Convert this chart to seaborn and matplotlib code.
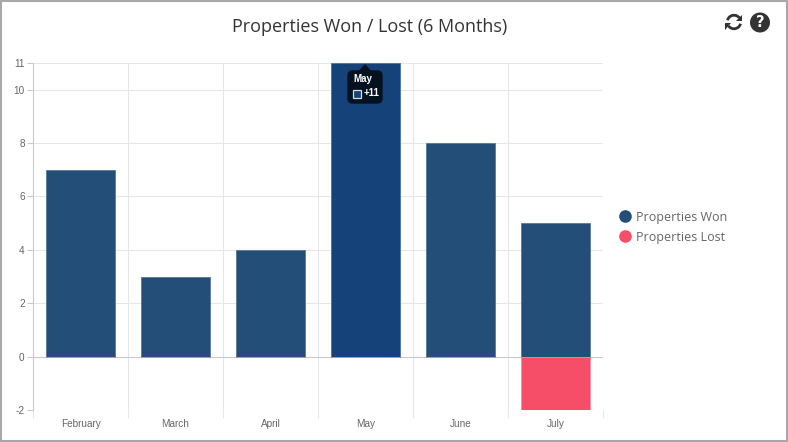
import numpy as np
import pandas as pd
import seaborn as sns
import matplotlib
matplotlib.use("Agg")
import matplotlib.pyplot as plt
from matplotlib.patches import FancyBboxPatch, Polygon, Rectangle, Circle, Arc

months = ["February", "March", "April", "May", "June", "July"]
won = [7, 3, 4, 11, 8, 5]
lost = [0, 0, 0, 0, 0, -2]
y_ticks = [-2, 0, 2, 4, 6, 8, 10, 11]
title = "Properties Won / Lost (6 Months)"
series_names = ["Properties Won", "Properties Lost"]

WON = "#224e78"
WON_ACTIVE = "#16427a"
LOST = "#f64d68"
GRID = "#e6e6e6"
AXIS = "#c9c9c9"
W, H = 788, 442

sns.set_theme(style="white")
plt.rcParams["font.family"] = ["Open Sans", "DejaVu Sans"]

df = pd.DataFrame({
    "month": months * 2,
    "value": won + lost,
    "series": [series_names[0]] * 6 + [series_names[1]] * 6,
})

fig = plt.figure(figsize=(W / 100, H / 100), dpi=100, facecolor="white")
# plot area placed by pixel edges
left, right, top, bottom = 33, 603, 63, 410
ax = fig.add_axes([left / W, 1 - bottom / H, (right - left) / W, (bottom - top) / H])

sns.barplot(data=df, x="month", y="value", hue="series", order=months,
            hue_order=series_names, palette=[WON, LOST], dodge=False,
            width=0.72, ax=ax, legend=False, zorder=3, saturation=1,
            errorbar=None)

for bar in ax.containers[0]:
    bar.set_edgecolor("#55799b")
    bar.set_linewidth(0.6)
ax.containers[0][3].set_facecolor(WON_ACTIVE)
ax.containers[0][3].set_edgecolor("#4a74a4")
for bar in ax.containers[1]:
    bar.set_edgecolor("#f8879a")
    bar.set_linewidth(0.6)

ax.set_xlim(-0.5, 5.5)
ax.set_ylim(-2, 11)
ax.set_xlabel("")
ax.set_ylabel("")
ax.set_yticks(y_ticks)
ax.set_yticklabels([str(t) for t in y_ticks])
ax.set_xticks(np.arange(-0.5, 6, 1), minor=True)
ax.set_xticks(np.arange(6))
ax.set_xticklabels(months)

ax.grid(True, axis="y", color=GRID, lw=0.75, zorder=0)
ax.grid(True, axis="x", which="minor", color=GRID, lw=0.75, zorder=0)
ax.grid(False, axis="x", which="major")
ax.set_axisbelow(True)
ax.axhline(0, color=AXIS, lw=0.75, zorder=2)

for name, spine in ax.spines.items():
    spine.set_visible(name == "left")
    spine.set_color(AXIS)
    spine.set_linewidth(0.75)

ax.tick_params(axis="y", which="major", left=True, length=4, width=0.75, color=AXIS,
               labelsize=7.2, labelcolor="#666666", pad=2)
ax.tick_params(axis="x", which="major", bottom=False, labelsize=7.2,
               labelcolor="#666666", pad=0.5)
ax.tick_params(axis="x", which="minor", bottom=True, length=5.5, width=0.75, color=GRID)
for lab in ax.get_xticklabels() + ax.get_yticklabels():
    lab.set_family(["Liberation Sans", "DejaVu Sans"])

# overlay in pixel coordinates for the toolbar, tooltip and frame
ov = fig.add_axes([0, 0, 1, 1], facecolor="none")
ov.set_xlim(0, W)
ov.set_ylim(H, 0)
ov.axis("off")
ov.set_zorder(5)

ov.add_patch(Rectangle((0.75, 0.75), W - 1.5, H - 1.5, fill=False, ec="#a8a8a8", lw=1.5))

ov.text(370, 27.5, title, ha="center", va="center", fontsize=12.95, color="#333333")

# tooltip
ov.add_patch(Polygon([[358.5, 71], [365, 64], [371.5, 71]], fc="#04121f", ec="none"))
ov.add_patch(FancyBboxPatch((348, 71), 34, 32, boxstyle="round,pad=0,rounding_size=4.5",
                            fc="#04121f", ec="#04121f", lw=1))
ov.text(353, 78.5, months[3], ha="left", va="center", fontsize=7, fontweight="bold",
        color="white", family=["Liberation Sans"])
ov.add_patch(Rectangle((353.5, 90), 8, 8, fc=WON_ACTIVE, ec="#d5dbe2", lw=0.9))
ov.text(364, 93.5, f"+{won[3]}", ha="left", va="center", fontsize=7, fontweight="bold",
        color="white", family=["Liberation Sans"])

# legend
for y, name, col in zip([216.5, 236.5], series_names, [WON, LOST]):
    ov.add_patch(Circle((625.5, y), 6.3, fc=col, ec="none"))
    ov.text(636, y + 1, name, ha="left", va="center", fontsize=9, color="#666666")

# refresh icon
ICON = "#333333"
ov.add_patch(Arc((734, 22), 13.5, 13.5, theta1=195, theta2=325, color=ICON, lw=2))
ov.add_patch(Arc((734, 22), 13.5, 13.5, theta1=15, theta2=145, color=ICON, lw=2))
ov.add_patch(Polygon([[742.5, 14.5], [742.5, 21], [736.5, 21]], fc=ICON, ec="none"))
ov.add_patch(Polygon([[725.5, 29.5], [725.5, 23], [731.5, 23]], fc=ICON, ec="none"))

# help icon
ov.add_patch(Circle((760, 22.5), 10, fc=ICON, ec="none"))
ov.text(760, 22.8, "?", ha="center", va="center", fontsize=10.5, fontweight="bold",
        color="white", family=["DejaVu Sans"])

fig.savefig("out.png", dpi=100)
